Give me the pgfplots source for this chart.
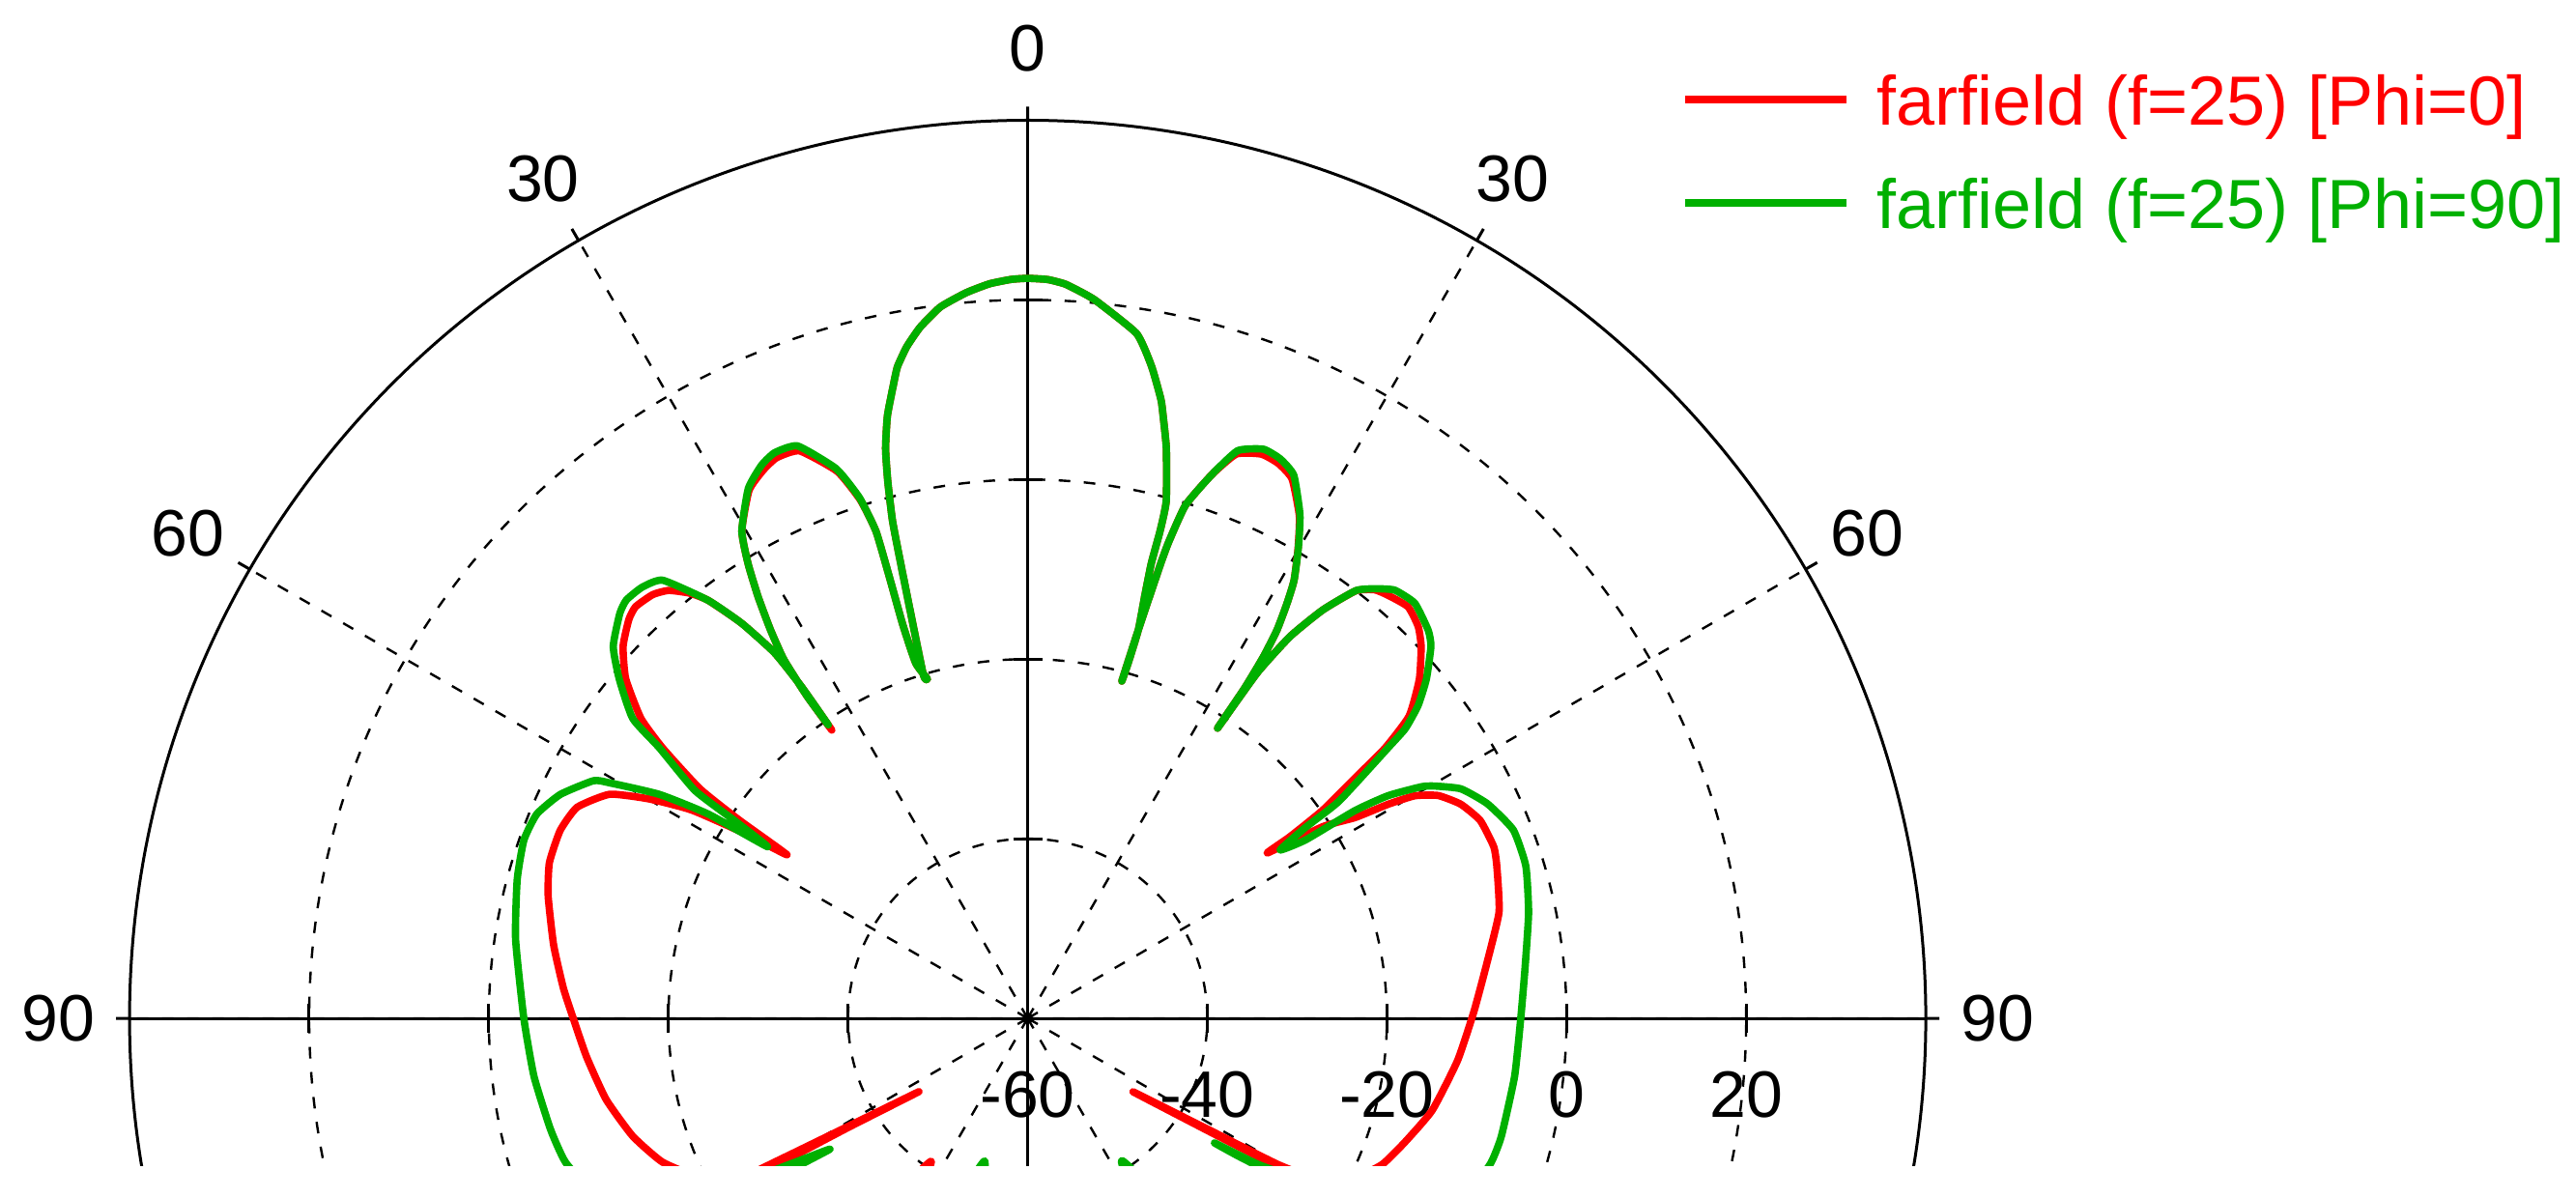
\documentclass[border=0pt]{standalone}
\usepackage{fontspec}
\setmainfont{Liberation Sans}
\usepackage{pgfplots}
\pgfplotsset{compat=1.18}
\usepgfplotslibrary{polar}
\usepackage{pgfplotstable}
\definecolor{cstred}{RGB}{255,0,0}
\definecolor{cstgreen}{RGB}{0,176,0}

% theta (deg, right side positive, 0 = top)   directivity (dB)
\pgfplotstableread{
t db
-180 -30
-170 -28
-160 -28
-152 -32
-148 -38
-146 -40.8
-144 -38
-140 -30
-135 -23
-128 -19
-122.5 -21
-120.6 -25
-120.4 -28
-121.3 -36.5
-124 -45.4
-121 -36.5
-119.6 -27.5
-119 -23
-116 -19.5
-111.5 -16.3
-106.6 -14.1
-100.9 -12.2
-95 -10.7
-90 -9.4
-86.3 -8.2
-81.25 -6.6
-75.7 -4.9
-72 -4.0
-68.1 -3.9
-64.9 -4.6
-61.8 -7.2
-59.9 -11.3
-58.2 -16
-56.8 -22.5
-55.8 -27.6
-55.5 -21
-55.0 -15.5
-53.5 -9.5
-52.2 -5.5
-49.8 -1.4
-47.4 1.2
-45 2.8
-43.6 3.3
-41.5 3.0
-40 2.2
-38.5 0.5
-37.4 -1.4
-35.9 -5.7
-34.7 -10.5
-34.3 -15.2
-34.2 -21.2
-34.4 -16.5
-34.2 -11.7
-33.5 -8.1
-32.6 -4.3
-31.6 -0.6
-30.4 2.9
-27.8 6.5
-25.7 7.8
-24.1 8.4
-21.9 8.1
-19.2 4.5
-17.9 0.7
-17.3 -3.2
-17.4 -8.5
-17.6 -13.9
-17.5 -18.5
-16.45 -20.6
-16.9 -20.1
-16.1 -13.0
-15.6 -7.45
-15.2 -2.6
-14.6 1.8
-14.0 5.4
-13.1 8.9
-11.9 12.3
-11.3 14.0
-10.2 16.0
-8.83 17.9
-7.0 19.8
-4.83 21.1
-2.98 21.9
-1.3 22.3
0 22.4
1.56 22.3
2.86 21.9
3.88 21.3
5.4 20.3
9.05 17.2
10.76 13.9
12.15 10.5
12.66 8.8
13.68 5.3
15.0 -0.4
15.2 -3.8
15.2 -7.5
15.5 -11.3
15.9 -15
15.8 -18.8
15.6 -21
15.9 -15
16.3 -7.3
16.5 -4.6
17.1 -0.2
18.7 3.9
20.3 7.0
22.5 8.0
24.3 7.8
26.1 6.9
28.4 3.6
29.9 0.4
31.3 -2.9
32 -5.5
32.7 -8.6
33.1 -11.9
33.3 -16
33.2 -21.4
33.6 -13.8
34.5 -8.4
35.85 -3.9
37.5 0
39 1.4
40.5 1.9
42.75 2.4
44.9 1.6
46.6 0.3
49.1 -2.3
51.6 -5.8
52.9 -10.1
53.7 -14.7
54.8 -19.8
55.3 -24.5
55.4 -27.6
57 -20.8
58.5 -17.2
59.3 -13.3
60.1 -10.3
61.5 -8.0
63.7 -6.2
66.4 -5.0
69.8 -4.7
72.1 -5.1
77.3 -6.2
83 -8.45
89.1 -10.3
95.6 -11.9
102.8 -13.8
108.2 -15.8
112.4 -17.3
116 -19.5
119 -23
120.3 -27.8
121.7 -36.8
124.9 -45.7
121.9 -36
120.8 -28
121 -24
124 -20
130 -18
140 -17
150 -20
160 -25
170 -28
180 -30
}\redtab

\pgfplotstableread{
t db
-180 -28
-170 -35
-166 -40
-163.2 -43.4
-160 -40
-155 -30
-145 -22
-135 -16
-128 -14
-123 -18
-122 -22
-122.5 -28
-123.5 -33.6
-121.7 -29.4
-119 -20
-116 -12
-112 -8
-107.3 -6.1
-103.1 -5.45
-96.7 -4.65
-90 -3.9
-81.2 -2.3
-74.8 -1.1
-70.5 -0.5
-67.4 -0.8
-64.4 -2.3
-61.3 -4.9
-60.6 -6.6
-58.7 -12
-57.4 -17.8
-56.6 -25.3
-56 -20.6
-55.6 -15.1
-53.7 -9.1
-52.8 -4.8
-50.3 -0.9
-48.1 2.0
-45.2 4.0
-43.8 4.55
-41.8 4.4
-39.8 3.5
-37.4 -1.4
-35.9 -5.7
-34.7 -10.5
-34.3 -15.2
-34.2 -20.5
-34.4 -16.5
-34.2 -11.7
-33.5 -8.1
-32.6 -4.3
-31.6 -0.6
-30.4 2.9
-27.8 6.7
-25.7 8.35
-24.1 9.0
-21.9 8.7
-19.2 4.8
-17.9 0.9
-17.3 -3.2
-17.4 -8.5
-17.6 -13.9
-17.5 -18.5
-16.45 -20.6
-16.9 -20.1
-16.1 -13.0
-15.6 -7.45
-15.2 -2.6
-14.6 1.8
-14.0 5.4
-13.1 8.9
-11.9 12.3
-11.3 14.0
-10.2 16.0
-8.83 17.9
-7.0 19.8
-4.83 21.1
-2.98 21.9
-1.3 22.3
0 22.4
1.56 22.3
2.86 21.9
3.88 21.3
5.4 20.3
9.05 17.2
10.76 13.9
12.15 10.5
12.66 8.8
13.68 5.3
15.0 -0.4
15.2 -3.8
15.2 -7.5
15.5 -11.3
15.9 -15
15.8 -18.8
15.6 -21
15.9 -15
16.3 -7.3
16.5 -4.6
17.1 -0.2
18.7 3.9
20.3 7.4
22.5 8.6
24.3 8.35
26.1 7.35
28.4 3.75
29.9 0.47
31.3 -2.9
32 -5.5
32.7 -8.6
33.1 -11.9
33.3 -16
33.2 -21.4
33.6 -13.8
34.5 -8.4
35.85 -3.9
37.5 0.04
39 1.55
40.6 2.8
43 3.2
45.9 2.1
47.3 1.1
49.6 -1.7
51.3 -4.3
52.5 -7
53.1 -9.8
55.1 -17.7
55.5 -22.4
56.3 -26.2
57.3 -23.2
57.6 -16.8
58.3 -12.8
59.55 -9.1
60.3 -7.8
62.1 -5.4
65 -3.5
68.8 -2
73 -2
78.1 -3
84.3 -4.35
90 -5.1
96.8 -5.4
104 -5.65
107.5 -6.0
112 -7.5
116 -12
119 -20
121 -26
122.4 -29.7
123.7 -35
123.2 -32
122.3 -27
122 -22
126 -17
132 -16
138 -25
143 -35
146.5 -41
150 -37
160 -28
170 -27
180 -28
}\greentab

\begin{document}
\begin{tikzpicture}
\useasboundingbox (-265.9pt,-46.5pt) rectangle (400.6pt,263.5pt);
\clip (-265.9pt,-38.25pt) rectangle (400.6pt,263.5pt);
\begin{polaraxis}[
  at={(0pt,0pt)}, anchor=center,
  width=464.75pt, height=464.75pt, scale only axis,
  xmin=0, xmax=360, ymin=0, ymax=100,
  xtick={0,30,...,330},
  xticklabels={90,60,30,0,30,60,90,{},{},{},{},{}},
  ytick={0,20,40,60,80},
  yticklabels={-60,-40,-20,0,20},
  tick label style={font=\fontsize{17}{17}\selectfont, black},
  xticklabel style={anchor=center, inner sep=0pt},
  xticklabel shift=18.5pt,
  yticklabel style={anchor=north, inner sep=0pt, yshift=-13.5pt},
  grid=major,
  major grid style={black, line width=0.6pt, dash pattern=on 3pt off 3.5pt},
  axis line style={black, line width=0.75pt},
  tick style={black, line width=0.75pt},
  tick align=inside, major tick length=3.5pt,
  ytick style={draw=none},
  legend style={draw=none, fill=none, at={(axis description cs:0.8638,1.0261)}, anchor=north west,
    inner sep=0pt, outer sep=0pt, font=\fontsize{18}{18}\selectfont,
    row sep=8.75pt, column sep=0pt,
    nodes={inner sep=0pt, outer sep=0pt, text height=13.5pt, text depth=4.5pt},
    /tikz/every odd column/.append style={column sep=7pt}},
  legend cell align=left,
  legend image code/.code={\draw[#1] (0pt,2.25pt) -- (41.75pt,2.25pt);},
]
\addplot[black, line width=0.75pt, forget plot] coordinates {(0,100) (180,100)};
\addplot[black, line width=0.75pt, forget plot] coordinates {(90,100) (270,100)};
\pgfplotsinvokeforeach{20,40,60,80}{
  \draw[black, line width=0.75pt] (axis cs:0,#1) ++(0pt,-3.75pt) -- ++(0pt,7.5pt);
  \draw[black, line width=0.75pt] (axis cs:180,#1) ++(0pt,-3.75pt) -- ++(0pt,7.5pt);
  \draw[black, line width=0.75pt] (axis cs:90,#1) ++(-3.75pt,0pt) -- ++(7.5pt,0pt);
  \draw[black, line width=0.75pt] (axis cs:270,#1) ++(-3.75pt,0pt) -- ++(7.5pt,0pt);
}
\addplot[cstred, line width=1.9pt, line join=round, smooth, tension=0.3] table[x expr={90-\thisrow{t}}, y expr={\thisrow{db}+60}] {\redtab};
\addlegendentry{\textcolor{cstred}{farfield (f=25) [Phi=0]}}
\addplot[cstgreen, line width=1.9pt, line join=round, smooth, tension=0.3] table[x expr={90-\thisrow{t}}, y expr={\thisrow{db}+60}] {\greentab};
\addlegendentry{\textcolor{cstgreen}{farfield (f=25) [Phi=90]}}
\end{polaraxis}
\end{tikzpicture}
\end{document}
